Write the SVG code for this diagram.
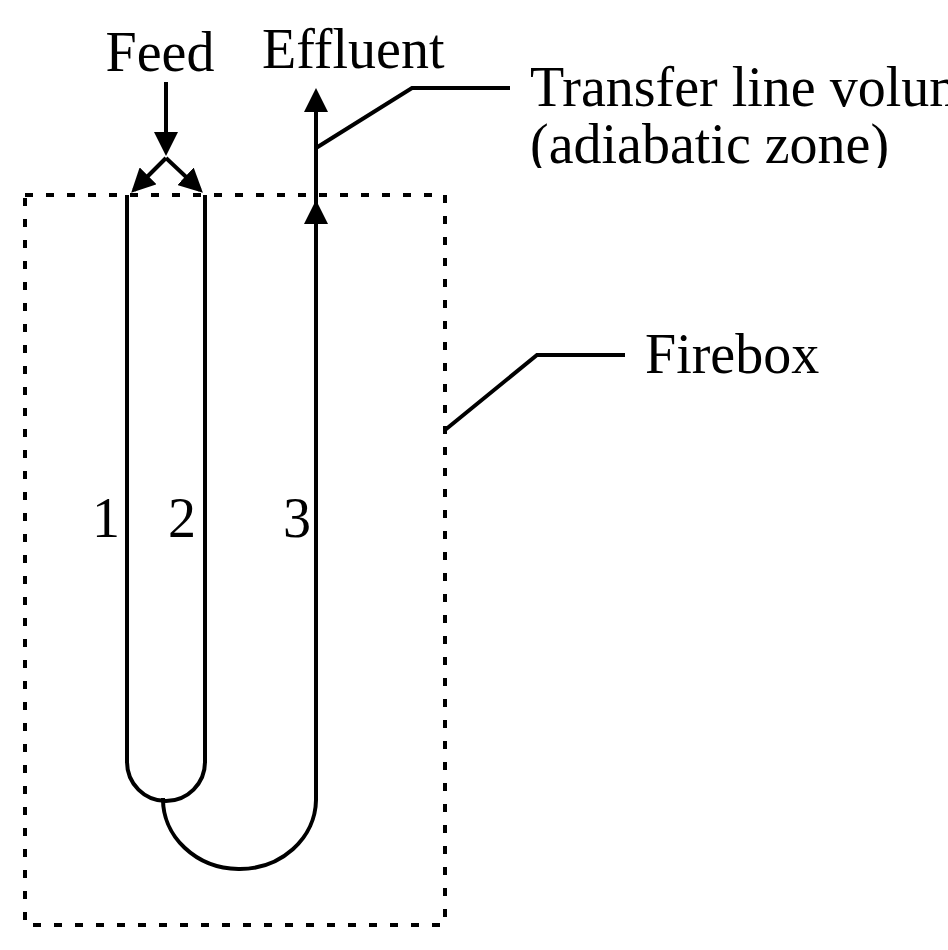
<svg xmlns="http://www.w3.org/2000/svg" width="948" height="950" viewBox="0 0 948 950">
<style>
.l{fill:none;stroke:#000;stroke-width:4}
.d{fill:none;stroke:#000;stroke-width:4;stroke-dasharray:8,13}
text{font-family:"Liberation Serif","Times New Roman",serif;font-size:56px;fill:#000}
</style>
<defs><marker id="a" markerWidth="6" markerHeight="6" refX="5" refY="3" orient="auto"><path d="M0,0L6,3L0,6z" fill="#000"/></marker>
<clipPath id="c"><rect x="0" y="0" width="948" height="168"/></clipPath></defs>
<rect width="948" height="950" fill="#fff"/>
<g id="firebox"><rect class="d" x="25" y="195" width="420" height="730"/></g>
<g id="tubes">
<path class="l" d="M127,195V762A39,39 0 0 0 205,762V195"/>
<path class="l" d="M163,798A76.5,70 0 0 0 316,800V200"/>
</g>
<g id="connectors">
<path class="l" d="M166,82V152" marker-end="url(#a)"/>
<path class="l" d="M166,158L134,190" marker-end="url(#a)"/>
<path class="l" d="M166,158L200,190" marker-end="url(#a)"/>
<path class="l" d="M316,200V92" marker-end="url(#a)"/>
<path class="l" d="M316,215V204" marker-end="url(#a)"/>
<path class="l" d="M316,148L412,88H510"/>
<path class="l" d="M445,430L537,355H625"/>
</g>
<g id="labels">
<text x="160" y="71" text-anchor="middle">Feed</text>
<text x="262" y="68">Effluent</text>
<text x="530" y="106">Transfer line volume</text>
<text x="530" y="163" clip-path="url(#c)">(adiabatic zone)</text>
<text x="645" y="373">Firebox</text>
<text x="92" y="537">1</text>
<text x="168" y="537">2</text>
<text x="283" y="537">3</text>
</g>
</svg>
